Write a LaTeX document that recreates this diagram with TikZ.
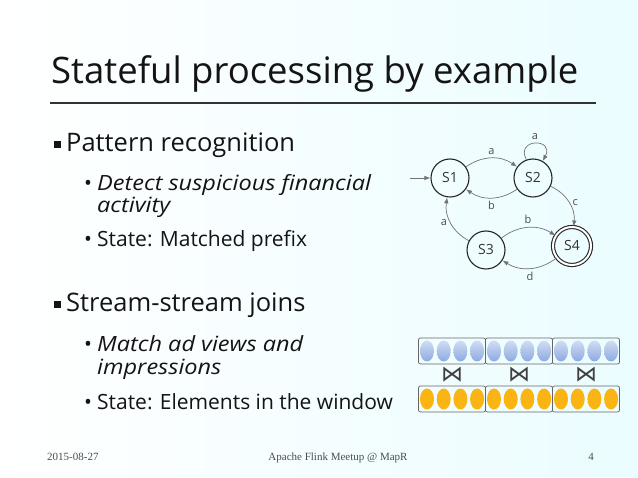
\documentclass[tikz,border=0pt]{standalone}
\usepackage{fontspec}
\setmainfont{Open Sans}
\newfontfamily\itwide{Open Sans Italic}[FakeStretch=1.12]
\newfontfamily\ftfont{Liberation Serif}
\newfontfamily\djv{DejaVu Sans}
\usetikzlibrary{arrows.meta,shapes.geometric}
\definecolor{txt}{RGB}{20,20,20}
\definecolor{bluef}{RGB}{140,170,225}
\definecolor{orf}{RGB}{250,180,20}
\begin{document}
\begin{tikzpicture}[x=1pt,y=-1pt,
  st/.style={circle,draw=black!85,line width=1.1pt,minimum size=38pt,inner sep=0pt,font=\fontsize{14}{14}\selectfont,text=black!80},
  tr/.style={draw=black!55,line width=0.7pt,-{Latex[length=6pt,width=4.5pt]}},
  lb/.style={font=\fontsize{11}{11}\selectfont,text=black!70},
  wbox/.style={draw=black!60,rounded corners=2pt,line width=0.7pt,minimum width=67pt,minimum height=26pt,inner sep=0pt},
  bb/.style={ellipse,top color=bluef!40,bottom color=bluef,draw=none,minimum width=14pt,minimum height=21pt,inner sep=0pt},
  ob/.style={ellipse,fill=orf,draw=none,minimum width=14pt,minimum height=21pt,inner sep=0pt},
  sq/.style={fill=txt,minimum size=7pt,inner sep=0pt},
  big/.style={anchor=base west,font=\fontsize{25.5}{25.5}\selectfont,text=txt,inner sep=0pt},
  sml/.style={anchor=base west,font=\fontsize{21}{21}\selectfont,text=txt,inner sep=0pt},
  ism/.style={anchor=base west,font=\itwide\fontsize{21}{21}\selectfont,text=txt,inner sep=0pt}]
\shade[left color=white,right color=blue!12!cyan!8!white] (0,0) rectangle (638,478);
\useasboundingbox (0,0) rectangle (638,478);
\node[anchor=base west,font=\fontsize{36.5}{36.5}\selectfont,text=txt,inner sep=0pt] (title) at (51,84) {Stateful processing by example};
\draw[line width=1.3pt,black!80] (50,103) -- (596,103);
% bullets
\node[sq] (m1) at (57,145) {};
\node[big] (b1) at (66,152) {Pattern recognition};
\node[sml] (s1) at (84,191) {•};
\node[ism] (s1t) at (97,191) {Detect suspicious financial};
\node[ism] (s1b) at (97,213) {activity};
\node[sml] (s2) at (84,247) {•};
\node[sml] (s2t) at (97,247) {State: Matched prefix};
\node[sq] (m2) at (57,305) {};
\node[big] (b2) at (66,312) {Stream-stream joins};
\node[sml] (s3) at (84,352) {•};
\node[ism] (s3t) at (97,352) {Match ad views and};
\node[ism] (s3b) at (97,375) {impressions};
\node[sml] (s4) at (84,410) {•};
\node[sml] (s4t) at (97,410) {State: Elements in the window};
% footer
\node[anchor=base west,font=\ftfont\fontsize{11}{11}\selectfont,text=black!70,inner sep=0pt] (d) at (47,461) {2015-08-27};
\node[anchor=base,font=\ftfont\fontsize{11}{11}\selectfont,text=black!70,inner sep=0pt] (m) at (338,461) {Apache Flink Meetup @ MapR};
\node[anchor=base east,font=\ftfont\fontsize{11}{11}\selectfont,text=black!70,inner sep=0pt] (p) at (594,461) {4};
% automaton
\node[st] (S1) at (450,178) {S1};
\node[st] (S2) at (533,178) {S2};
\node[st] (S3) at (486,250) {S3};
\node[st,double,double distance=2pt] (S4) at (572,246) {S4};
\coordinate (in) at (410,178);
\draw[tr] (in) -- (S1);
\draw[tr] (S1) to[bend left=35] node[lb,above]{a} (S2);
\draw[tr] (S2) to[bend left=35] node[lb,below]{b} (S1);
\draw[tr] (S2.110) .. controls (515,138) and (555,138) .. (S2.60) node[lb,pos=0.5,above]{a};
\draw[tr] (S2) to[bend left=35] node[lb,right]{c} (S4);
\draw[tr] (S3) to[bend left=35] node[lb,above]{b} (S4);
\draw[tr] (S4) to[bend left=35] node[lb,below]{d} (S3);
\draw[tr] (S3) to[bend left=35] node[lb,left]{a} (S1);
% windows
\foreach \i/\x in {1/452,2/519,3/586}{
  \node[wbox] (t\i) at (\x,351) {};
  \node[wbox] (w\i) at (\x,399) {};
  \foreach \k in {0,1,2,3}{
    \node[bb] (tb\i\k) at (\x-25+\k*16.7,351) {};
    \node[ob] (ob\i\k) at (\x-25+\k*16.7,399) {};
  }
  \node[font=\djv\fontsize{22}{22}\selectfont,text=black!75] (j\i) at (\x,375) {⋈};
}
\end{tikzpicture}
\end{document}
